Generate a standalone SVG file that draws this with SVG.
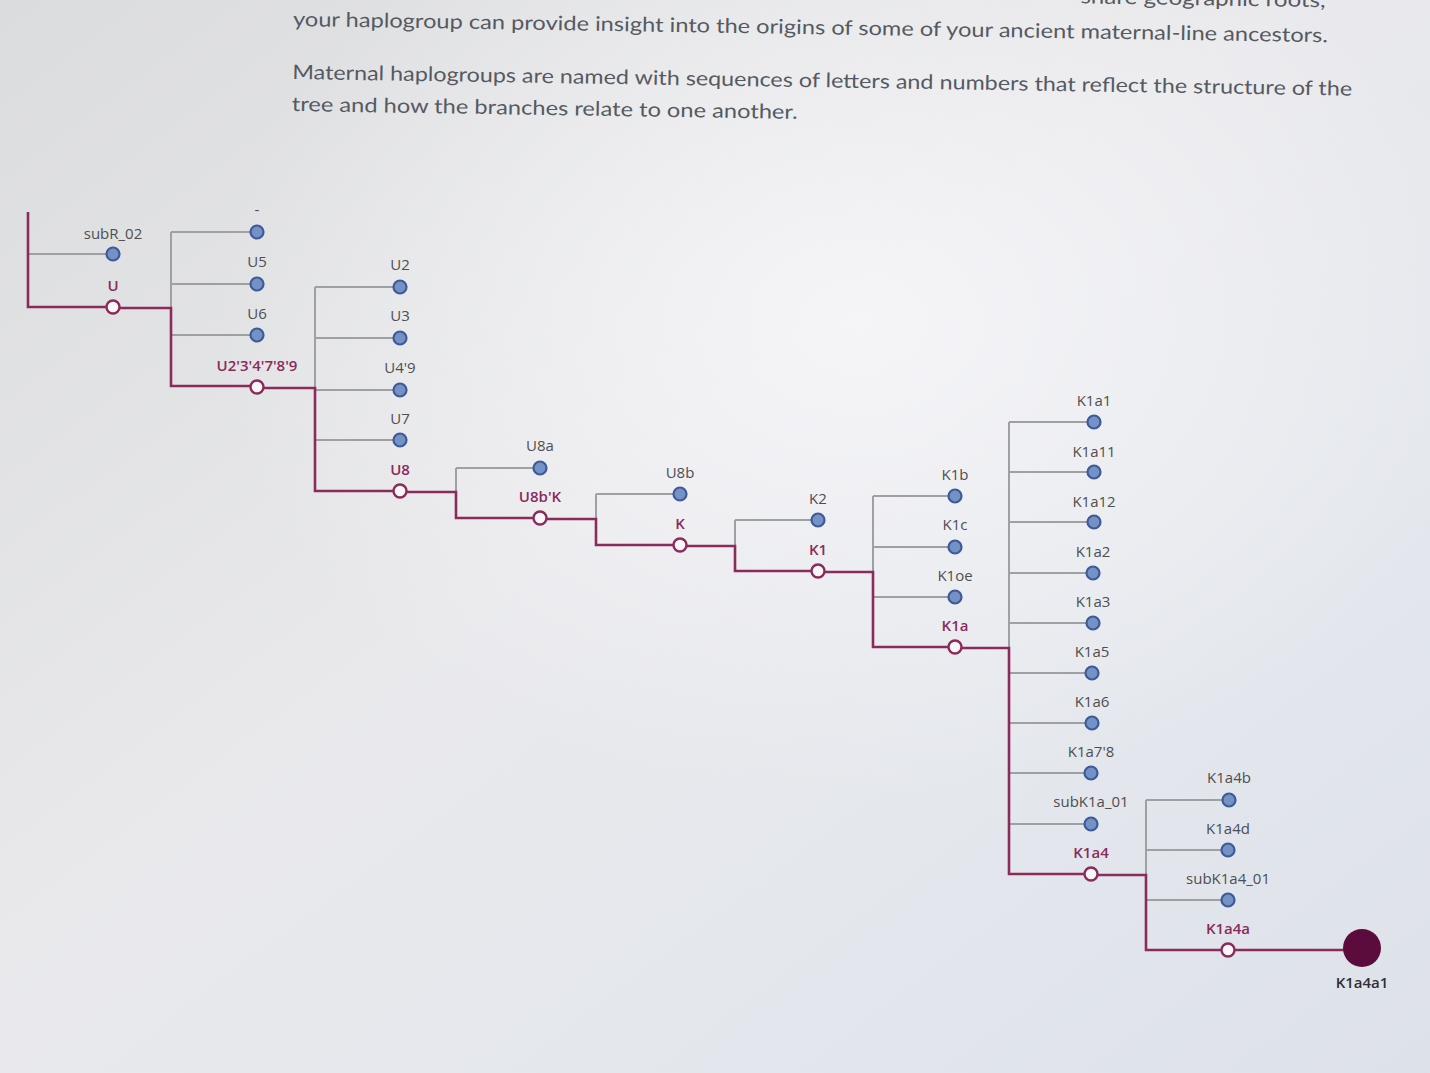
<svg xmlns="http://www.w3.org/2000/svg" width="1430" height="1073" viewBox="0 0 1430 1073">
<defs>
<linearGradient id="bg" x1="0" y1="0" x2="1" y2="1">
<stop offset="0" stop-color="#dbdcdd"/>
<stop offset="0.45" stop-color="#e9e9ec"/>
<stop offset="0.75" stop-color="#e3e7ed"/>
<stop offset="1" stop-color="#dde1e8"/>
</linearGradient>
<radialGradient id="hl" cx="0.6" cy="0.3" r="0.45">
<stop offset="0" stop-color="#f6f6f9" stop-opacity="0.9"/>
<stop offset="1" stop-color="#f6f6f9" stop-opacity="0"/>
</radialGradient>
<style>
.para{font-family:Lato,"Open Sans",sans-serif;font-size:20px;fill:#555a62}
.lbl{font-family:"Open Sans","DejaVu Sans",sans-serif;font-size:15px;fill:#4e4e52;text-anchor:middle}
.lblm{font-family:"Open Sans","DejaVu Sans",sans-serif;font-size:15px;fill:#8a2b5c;text-anchor:middle;font-weight:600}
.leaf{fill:#7592c6;stroke:#3e5a98;stroke-width:2.2}
.anc{fill:#f8f6f6;stroke:#8a2b5c;stroke-width:2.4}
.gray{fill:none;stroke:#9ea0a4;stroke-width:2}
.main{fill:none;stroke:#8a2b5c;stroke-width:2.6}
</style>
</defs>
<rect width="1430" height="1073" fill="url(#bg)"/>
<rect width="1430" height="1073" fill="url(#hl)"/>

<g id="intro" transform="rotate(0.9 293 25)">
<text class="para" x="1080" y="-9" textLength="245" lengthAdjust="spacingAndGlyphs">share geographic roots,</text>
<text class="para" x="293" y="26" textLength="1035" lengthAdjust="spacingAndGlyphs">your haplogroup can provide insight into the origins of some of your ancient maternal-line ancestors.</text>
<text class="para" x="293" y="79" textLength="1060" lengthAdjust="spacingAndGlyphs">Maternal haplogroups are named with sequences of letters and numbers that reflect the structure of the</text>
<text class="para" x="293" y="111" textLength="506" lengthAdjust="spacingAndGlyphs">tree and how the branches relate to one another.</text>
</g>

<g id="connectors">
<path class="gray" d="M28 254H113"/>
<path class="gray" d="M171 232V385M171 232H257M171 284H257M171 335H257"/>
<path class="gray" d="M315 287V490M315 287H400M315 338H400M315 390H400M315 440H400"/>
<path class="gray" d="M456 468V517M456 468H540"/>
<path class="gray" d="M596 494V544M596 494H680"/>
<path class="gray" d="M735 520V570M735 520H818"/>
<path class="gray" d="M873 496V647M873 496H955M873 547H955M873 597H955"/>
<path class="gray" d="M1009 422V873M1009 422H1094M1009 472H1094M1009 522H1094M1009 573H1093M1009 623H1093M1009 673H1092M1009 723H1092M1009 773H1091M1009 824H1091"/>
<path class="gray" d="M1146 800V950M1146 800H1229M1146 850H1228M1146 900H1228"/>
<path class="main" d="M28 212V307H113"/>
<path class="main" d="M113 308H171V386H257"/>
<path class="main" d="M257 388H315V491H400"/>
<path class="main" d="M400 492H456V518H540"/>
<path class="main" d="M540 519H596V545H680"/>
<path class="main" d="M680 546H735V571H818"/>
<path class="main" d="M818 572H873V647H955"/>
<path class="main" d="M955 648H1009V874H1091"/>
<path class="main" d="M1091 875H1146V950H1228"/>
<path class="main" d="M1228 950H1345"/>
</g>

<g id="n-subR_02"><circle class="leaf" cx="113" cy="254" r="6.5"/><text class="lbl" x="113" y="239">subR_02</text></g>
<g id="n-U"><circle class="anc" cx="113" cy="307" r="6.5"/><text class="lblm" x="113" y="291">U</text></g>
<g id="n-dash"><circle class="leaf" cx="257" cy="232" r="6.5"/><text class="lbl" x="257" y="215">-</text></g>
<g id="n-U5"><circle class="leaf" cx="257" cy="284" r="6.5"/><text class="lbl" x="257" y="267">U5</text></g>
<g id="n-U6"><circle class="leaf" cx="257" cy="335" r="6.5"/><text class="lbl" x="257" y="319">U6</text></g>
<g id="n-U2347889"><circle class="anc" cx="257" cy="387" r="6.5"/><text class="lblm" x="257" y="371">U2'3'4'7'8'9</text></g>
<g id="n-U2"><circle class="leaf" cx="400" cy="287" r="6.5"/><text class="lbl" x="400" y="270">U2</text></g>
<g id="n-U3"><circle class="leaf" cx="400" cy="338" r="6.5"/><text class="lbl" x="400" y="321">U3</text></g>
<g id="n-U49"><circle class="leaf" cx="400" cy="390" r="6.5"/><text class="lbl" x="400" y="373">U4'9</text></g>
<g id="n-U7"><circle class="leaf" cx="400" cy="440" r="6.5"/><text class="lbl" x="400" y="424">U7</text></g>
<g id="n-U8"><circle class="anc" cx="400" cy="491" r="6.5"/><text class="lblm" x="400" y="475">U8</text></g>
<g id="n-U8a"><circle class="leaf" cx="540" cy="468" r="6.5"/><text class="lbl" x="540" y="451">U8a</text></g>
<g id="n-U8bK"><circle class="anc" cx="540" cy="518" r="6.5"/><text class="lblm" x="540" y="502">U8b'K</text></g>
<g id="n-U8b"><circle class="leaf" cx="680" cy="494" r="6.5"/><text class="lbl" x="680" y="478">U8b</text></g>
<g id="n-K"><circle class="anc" cx="680" cy="545" r="6.5"/><text class="lblm" x="680" y="529">K</text></g>
<g id="n-K2"><circle class="leaf" cx="818" cy="520" r="6.5"/><text class="lbl" x="818" y="504">K2</text></g>
<g id="n-K1"><circle class="anc" cx="818" cy="571" r="6.5"/><text class="lblm" x="818" y="555">K1</text></g>
<g id="n-K1b"><circle class="leaf" cx="955" cy="496" r="6.5"/><text class="lbl" x="955" y="480">K1b</text></g>
<g id="n-K1c"><circle class="leaf" cx="955" cy="547" r="6.5"/><text class="lbl" x="955" y="530">K1c</text></g>
<g id="n-K1oe"><circle class="leaf" cx="955" cy="597" r="6.5"/><text class="lbl" x="955" y="581">K1oe</text></g>
<g id="n-K1a"><circle class="anc" cx="955" cy="647" r="6.5"/><text class="lblm" x="955" y="631">K1a</text></g>
<g id="n-K1a1"><circle class="leaf" cx="1094" cy="422" r="6.5"/><text class="lbl" x="1094" y="406">K1a1</text></g>
<g id="n-K1a11"><circle class="leaf" cx="1094" cy="472" r="6.5"/><text class="lbl" x="1094" y="457">K1a11</text></g>
<g id="n-K1a12"><circle class="leaf" cx="1094" cy="522" r="6.5"/><text class="lbl" x="1094" y="507">K1a12</text></g>
<g id="n-K1a2"><circle class="leaf" cx="1093" cy="573" r="6.5"/><text class="lbl" x="1093" y="557">K1a2</text></g>
<g id="n-K1a3"><circle class="leaf" cx="1093" cy="623" r="6.5"/><text class="lbl" x="1093" y="607">K1a3</text></g>
<g id="n-K1a5"><circle class="leaf" cx="1092" cy="673" r="6.5"/><text class="lbl" x="1092" y="657">K1a5</text></g>
<g id="n-K1a6"><circle class="leaf" cx="1092" cy="723" r="6.5"/><text class="lbl" x="1092" y="707">K1a6</text></g>
<g id="n-K1a78"><circle class="leaf" cx="1091" cy="773" r="6.5"/><text class="lbl" x="1091" y="757">K1a7'8</text></g>
<g id="n-subK1a_01"><circle class="leaf" cx="1091" cy="824" r="6.5"/><text class="lbl" x="1091" y="807">subK1a_01</text></g>
<g id="n-K1a4"><circle class="anc" cx="1091" cy="874" r="6.5"/><text class="lblm" x="1091" y="858">K1a4</text></g>
<g id="n-K1a4b"><circle class="leaf" cx="1229" cy="800" r="6.5"/><text class="lbl" x="1229" y="783">K1a4b</text></g>
<g id="n-K1a4d"><circle class="leaf" cx="1228" cy="850" r="6.5"/><text class="lbl" x="1228" y="834">K1a4d</text></g>
<g id="n-subK1a4_01"><circle class="leaf" cx="1228" cy="900" r="6.5"/><text class="lbl" x="1228" y="884">subK1a4_01</text></g>
<g id="n-K1a4a"><circle class="anc" cx="1228" cy="950" r="6.5"/><text class="lblm" x="1228" y="934">K1a4a</text></g>
<g id="n-K1a4a1"><circle cx="1362" cy="948" r="19" fill="#5c0c3c"/><text class="lbl" x="1362" y="988" style="font-weight:600;fill:#2e2e36">K1a4a1</text></g>
</svg>
